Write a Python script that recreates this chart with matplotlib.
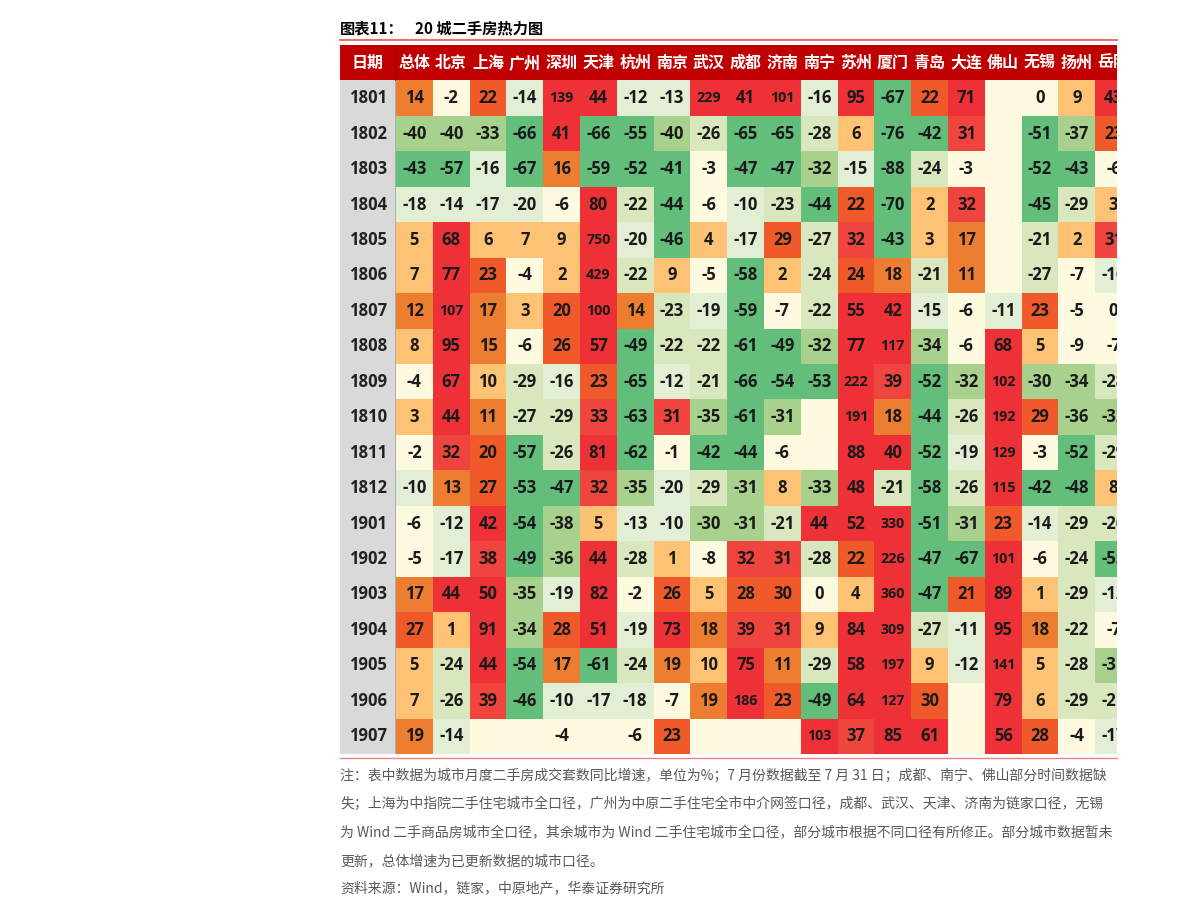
import numpy as np
import matplotlib
matplotlib.use('Agg')
import matplotlib.pyplot as plt
from matplotlib.colors import ListedColormap, BoundaryNorm
from matplotlib.lines import Line2D

nan = np.nan

cities = ['总体', '北京', '上海', '广州', '深圳', '天津', '杭州', '南京', '武汉', '成都',
          '济南', '南宁', '苏州', '厦门', '青岛', '大连', '佛山', '无锡', '扬州', '岳阳']
months = ['1801', '1802', '1803', '1804', '1805', '1806', '1807', '1808', '1809', '1810',
          '1811', '1812', '1901', '1902', '1903', '1904', '1905', '1906', '1907']

# 二手房成交套数同比增速 (%)
growth = np.array([
    [14, -2, 22, -14, 139, 44, -12, -13, 229, 41, 101, -16, 95, -67, 22, 71, nan, 0, 9, 43],
    [-40, -40, -33, -66, 41, -66, -55, -40, -26, -65, -65, -28, 6, -76, -42, 31, nan, -51, -37, 23],
    [-43, -57, -16, -67, 16, -59, -52, -41, -3, -47, -47, -32, -15, -88, -24, -3, nan, -52, -43, -6],
    [-18, -14, -17, -20, -6, 80, -22, -44, -6, -10, -23, -44, 22, -70, 2, 32, nan, -45, -29, 3],
    [5, 68, 6, 7, 9, 750, -20, -46, 4, -17, 29, -27, 32, -43, 3, 17, nan, -21, 2, 31],
    [7, 77, 23, -4, 2, 429, -22, 9, -5, -58, 2, -24, 24, 18, -21, 11, nan, -27, -7, -16],
    [12, 107, 17, 3, 20, 100, 14, -23, -19, -59, -7, -22, 55, 42, -15, -6, -11, 23, -5, 0],
    [8, 95, 15, -6, 26, 57, -49, -22, -22, -61, -49, -32, 77, 117, -34, -6, 68, 5, -9, -7],
    [-4, 67, 10, -29, -16, 23, -65, -12, -21, -66, -54, -53, 222, 39, -52, -32, 102, -30, -34, -28],
    [3, 44, 11, -27, -29, 33, -63, 31, -35, -61, -31, nan, 191, 18, -44, -26, 192, 29, -36, -32],
    [-2, 32, 20, -57, -26, 81, -62, -1, -42, -44, -6, nan, 88, 40, -52, -19, 129, -3, -52, -29],
    [-10, 13, 27, -53, -47, 32, -35, -20, -29, -31, 8, -33, 48, -21, -58, -26, 115, -42, -48, 8],
    [-6, -12, 42, -54, -38, 5, -13, -10, -30, -31, -21, 44, 52, 330, -51, -31, 23, -14, -29, -26],
    [-5, -17, 38, -49, -36, 44, -28, 1, -8, 32, 31, -28, 22, 226, -47, -67, 101, -6, -24, -55],
    [17, 44, 50, -35, -19, 82, -2, 26, 5, 28, 30, 0, 4, 360, -47, 21, 89, 1, -29, -12],
    [27, 1, 91, -34, 28, 51, -19, 73, 18, 39, 31, 9, 84, 309, -27, -11, 95, 18, -22, -7],
    [5, -24, 44, -54, 17, -61, -24, 19, 10, 75, 11, -29, 58, 197, 9, -12, 141, 5, -28, -31],
    [7, -26, 39, -46, -10, -17, -18, -7, 19, 186, 23, -49, 64, 127, 30, nan, 79, 6, -29, -21],
    [19, -14, nan, nan, -4, nan, -6, 23, nan, nan, nan, 103, 37, 85, 61, nan, 56, 28, -4, -17],
])

notes = [
    '注：表中数据为城市月度二手房成交套数同比增速，单位为%；7 月份数据截至 7 月 31 日；成都、南宁、佛山部分时间数据缺',
    '失；上海为中指院二手住宅城市全口径，广州为中原二手住宅全市中介网签口径，成都、武汉、天津、济南为链家口径，无锡',
    '为 Wind 二手商品房城市全口径，其余城市为 Wind 二手住宅城市全口径，部分城市根据不同口径有所修正。部分城市数据暂未',
    '更新，总体增速为已更新数据的城市口径。',
]
source = '资料来源：Wind，链家，中原地产，华泰证券研究所'

# colour bins (excel-like conditional formatting)
bounds = [-1000, -40.5, -29.5, -20.5, -9.5, 0.5, 10.5, 19.5, 30.5, 39.5, 10000]
colors = ['#63BE7B', '#A9D18E', '#D8E7BD', '#E2EFD5', '#FEFADF',
          '#FDC274', '#ED7D31', '#F0592A', '#F0443E', '#EE3136']
cream = '#FEFADF'

CJK = ['Noto Sans CJK SC', 'DejaVu Sans']
NUM = ['Open Sans', 'Noto Sans', 'DejaVu Sans']

W, H = 1191, 917
fig = plt.figure(figsize=(W / 100, H / 100), dpi=100)
fig.patch.set_facecolor('white')


def box(x0, y0, x1, y1):
    return [x0 / W, 1 - y1 / H, (x1 - x0) / W, (y1 - y0) / H]


ax = fig.add_axes(box(396, 45, 1117, 754))
ax_d = fig.add_axes(box(340, 45, 396, 754))

cmap = ListedColormap(colors)
cmap.set_bad(cream)
norm = BoundaryNorm(bounds, cmap.N)
ncol, nrow = len(cities), len(months)
ax.set_facecolor(cream)
ax.pcolormesh(np.arange(ncol + 1) - 0.5, np.arange(nrow + 1) - 0.5,
              np.ma.masked_invalid(growth), cmap=cmap, norm=norm)
ax.axhspan(-1.5, -0.5, color='#C00000', lw=0)
ax.set_xlim(-0.5, -0.5 + (1117 - 396) / 36.8)
ax.set_ylim(nrow - 0.5, -1.5)
ax.axis('off')

for j, c in enumerate(cities):
    ax.text(j, -1, c, color='white', ha='center', va='center', fontsize=11.5,
            fontweight='bold', family=CJK, clip_on=True)

for i in range(nrow):
    for j in range(ncol):
        v = growth[i, j]
        if np.isnan(v):
            continue
        fs = 10.3 if abs(v) >= 100 else 12
        ax.text(j, i, '%d' % v, ha='center', va='center', fontsize=fs,
                fontweight='bold', family=NUM, color='#1a1a1a', clip_on=True)

# date column
ax_d.axhspan(-1.5, -0.5, color='#C00000', lw=0)
ax_d.axhspan(-0.5, nrow - 0.5, color='#D9D9D9', lw=0)
ax_d.set_xlim(0, 1)
ax_d.set_ylim(nrow - 0.5, -1.5)
ax_d.axis('off')
ax_d.axvline(1, ymin=0, ymax=nrow / (nrow + 1), color='#A6A6A6', lw=1.2)
ax_d.axvline(1, ymin=nrow / (nrow + 1), ymax=1, color='#8B0000', lw=1.2)
ax_d.text(0.5, -1, '日期', color='white', ha='center', va='center', fontsize=11.5,
          fontweight='bold', family=CJK)
for i, m in enumerate(months):
    ax_d.text(0.5, i, m, ha='center', va='center', fontsize=12,
              fontweight='bold', family=NUM, color='#222222')

# title and rules
fig.text(340 / W, 1 - 28 / H, '图表11：', fontsize=11, fontweight='bold',
         family=CJK, va='center', ha='left')
fig.text(415 / W, 1 - 28 / H, '20 城二手房热力图', fontsize=11, fontweight='bold',
         family=CJK, va='center', ha='left')
fig.add_artist(Line2D([340 / W, 1117 / W], [1 - 39.5 / H, 1 - 39.5 / H],
                      color='#E8524A', lw=1.2))
fig.add_artist(Line2D([340 / W, 1117 / W], [1 - 757.5 / H, 1 - 757.5 / H],
                      color='#F08080', lw=1.0))

for k, line in enumerate(notes):
    fig.text(340 / W, 1 - (776 + k * 28.3) / H, line, fontsize=10, color='#595959',
             family=CJK, va='center', ha='left')
fig.text(340 / W, 1 - 888 / H, source, fontsize=10, color='#595959',
         family=CJK, va='center', ha='left')

fig.savefig('out.png', dpi=100)
